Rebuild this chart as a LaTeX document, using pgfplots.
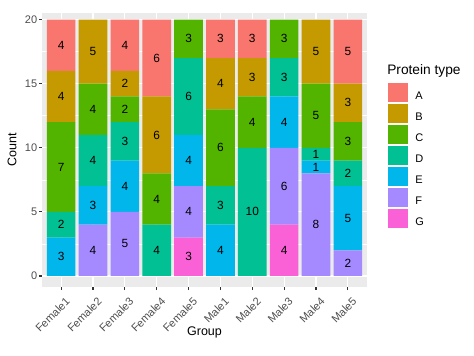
\documentclass[border=0pt]{standalone}
\usepackage{pgfplots}
\usepackage{pgfplotstable}
\usepackage{fontspec}
\setmainfont{Liberation Sans}
\pgfplotsset{compat=1.18}
\definecolor{cA}{HTML}{F8766D}
\definecolor{cB}{HTML}{C49A00}
\definecolor{cC}{HTML}{53B400}
\definecolor{cD}{HTML}{00C094}
\definecolor{cE}{HTML}{00B6EB}
\definecolor{cF}{HTML}{A58AFF}
\definecolor{cG}{HTML}{FB61D7}
\definecolor{panelbg}{HTML}{EBEBEB}
\definecolor{grey30}{HTML}{4D4D4D}
\definecolor{grey20}{HTML}{333333}
\pgfplotstableread{
x A B C D E F G
0 4 4 7 2 3 0 0
1 0 5 4 4 3 4 0
2 4 2 2 3 4 5 0
3 6 6 4 4 0 0 0
4 0 0 3 6 4 4 3
5 3 4 6 3 4 0 0
6 3 3 4 10 0 0 0
7 0 0 3 3 4 6 4
8 0 5 5 1 1 8 0
9 5 3 3 2 5 2 0
}\counts
\pgfplotstableread{
x y l
0 1.5 3
0 4 2
0 8.5 7
0 14 4
0 18 4
1 2 4
1 5.5 3
1 9 4
1 13 4
1 17.5 5
2 2.5 5
2 7 4
2 10.5 3
2 13 2
2 15 2
2 18 4
3 2 4
3 6 4
3 11 6
3 17 6
4 1.5 3
4 5 4
4 9 4
4 14 6
4 18.5 3
5 2 4
5 5.5 3
5 10 6
5 15 4
5 18.5 3
6 5 10
6 12 4
6 15.5 3
6 18.5 3
7 2 4
7 7 6
7 12 4
7 15.5 3
7 18.5 3
8 4 8
8 8.5 1
8 9.5 1
8 12.5 5
8 17.5 5
9 1 2
9 4.5 5
9 8 2
9 10.5 3
9 13.5 3
9 17.5 5
}\labels
\begin{document}
\begin{tikzpicture}
\path[use as bounding box] (0,0) rectangle (379.2pt,284pt);
\pgfplotsset{
  common/.style={
    at={(33.6pt,54.4pt)}, anchor=south west,
    width=260pt, height=219.2pt, scale only axis,
    xmin=-0.6, xmax=9.6, ymin=-0.86, ymax=20.51,
    enlargelimits=false,
  }
}
\begin{axis}[common,
  ybar stacked, bar width=0.9,
  axis background/.style={fill=panelbg},
  axis line style={draw=none},
  xtick={0,...,9},
  xticklabels={Female1,Female2,Female3,Female4,Female5,Male1,Male2,Male3,Male4,Male5},
  ytick={0,5,10,15,20},
  minor ytick={2.5,7.5,12.5,17.5},
  tick pos=left,
  tick align=outside,
  major tick length=2.2pt,
  minor tick length=0pt,
  every tick/.style={grey20, line width=0.85pt},
  xmajorgrids, ymajorgrids, yminorgrids,
  major grid style={white, line width=0.85pt},
  minor grid style={white, line width=0.43pt},
  tick label style={font=\fontsize{8.8}{10}\selectfont, text=grey30},
  /pgf/number format/assume math mode=true,
  xticklabel style={xshift=3pt, yshift=-4pt, rotate=45, anchor=north east, inner sep=1pt},
  yticklabel style={inner sep=1.5pt},
  xlabel={Group}, ylabel={Count},
  label style={font=\fontsize{11}{13}\selectfont},
  every axis x label/.style={at={(axis description cs:0.5,0)}, anchor=center, yshift=-36pt},
  every axis y label/.style={at={(axis description cs:0,0.5)}, xshift=-24pt, anchor=center, rotate=90},
  reverse legend,
  legend style={at={(axis description cs:1.0646,0.7445)}, anchor=north west,
    draw=none, fill=none, inner sep=0pt, outer sep=0pt,
    font=\fontsize{8.8}{10}\selectfont, row sep=1.6pt, column sep=6pt,
    nodes={inner sep=0pt}},
  legend cell align=left,
  legend image code/.code={\fill[#1] (0pt,-4.4pt) rectangle (16pt,10.8pt);},
]
\addplot[fill=cG, draw=none] table[x=x, y=G] {\counts};
\addplot[fill=cF, draw=none] table[x=x, y=F] {\counts};
\addplot[fill=cE, draw=none] table[x=x, y=E] {\counts};
\addplot[fill=cD, draw=none] table[x=x, y=D] {\counts};
\addplot[fill=cC, draw=none] table[x=x, y=C] {\counts};
\addplot[fill=cB, draw=none] table[x=x, y=B] {\counts};
\addplot[fill=cA, draw=none] table[x=x, y=A] {\counts};
\legend{G,F,E,D,C,B,A}
\end{axis}
\begin{axis}[common, hide axis]
\addplot[draw=none, mark=none, nodes near coords, point meta=explicit symbolic,
  nodes near coords align=center,
  every node near coord/.append style={font=\fontsize{9.5}{11}\selectfont, text=black, inner sep=0pt}]
  table[x=x, y=y, meta=l] {\labels};
\end{axis}
\node[anchor=west, font=\fontsize{11}{13}\selectfont, inner sep=0pt] at (309.6pt,227.2pt) {Protein type};
\end{tikzpicture}
\end{document}
